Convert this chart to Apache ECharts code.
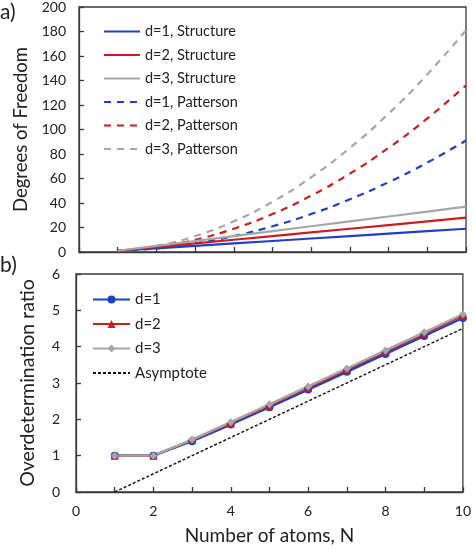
<!DOCTYPE html>
<html><head><meta charset="utf-8">
<script src="https://cdn.jsdelivr.net/npm/echarts@6/dist/echarts.min.js"></script>
<style>html,body{margin:0;padding:0;background:#fff}#c{width:474px;height:549px}</style>
</head><body><div id="c"></div>
<script>
const N = [1,2,3,4,5,6,7,8,9,10];
const structD1 = [1,3,5,7,9,11,13,15,17,19];
const structD2 = [1,4,7,10,13,16,19,22,25,28];
const structD3 = [1,5,9,13,17,21,25,29,33,37];
const pattD1 = [1,3,7,13,21,31,43,57,73,91];
const pattD2 = [1,4,10,19,31,46,64,85,109,136];
const pattD3 = [1,5,13,25,41,61,85,113,145,181];
const ratioD1 = [1,1,1.4,1.857,2.333,2.818,3.308,3.8,4.294,4.789];
const ratioD2 = [1,1,1.429,1.9,2.385,2.875,3.368,3.864,4.36,4.857];
const ratioD3 = [1,1,1.444,1.923,2.412,2.905,3.4,3.897,4.394,4.892];
const asymX = [1,10];
const asymY = [0,4.5];
const xTicksLabelled = [0,2,4,6,8,10];

const BLUE='#1f3fc4', RED='#c81e1e', GRAY='#a6a6a6';
const FONT='Lato';
const pairs=(xs,ys)=>xs.map((x,i)=>[x,ys[i]]);
const axisLineStyle={color:'#3a3a3a',width:1.3};

const chart=echarts.init(document.getElementById('c'));
const lineS=(name,data,color,dashed,grid,smooth)=>({
  name,type:'line',xAxisIndex:grid,yAxisIndex:grid,data:pairs(N,data),
  showSymbol:false,symbol:'none',smooth:smooth,
  lineStyle:{color,width:2.2,type:dashed?[7,6]:'solid'},itemStyle:{color}
});
const markS=(name,data,color,sym,size)=>({
  name,type:'line',xAxisIndex:1,yAxisIndex:1,data:pairs(N,data),
  symbol:sym,symbolSize:size,lineStyle:{color,width:2.4},itemStyle:{color}
});
chart.setOption({
  animation:false,
  textStyle:{fontFamily:FONT},
  graphic:[
    {type:'text',left:0,top:2,style:{text:'a)',fontSize:21,fontFamily:FONT,fill:'#222'}},
    {type:'text',left:0,top:255,style:{text:'b)',fontSize:21,fontFamily:FONT,fill:'#222'}}
  ],
  grid:[
    {left:79,right:8,top:7,bottom:297,show:true,borderColor:'#3a3a3a',borderWidth:1.3},
    {left:76,right:8,top:274,bottom:57,show:true,borderColor:'#3a3a3a',borderWidth:1.3}
  ],
  legend:[
    {left:98,top:19,orient:'vertical',itemWidth:36,itemHeight:10,itemGap:8.5,
     itemStyle:{opacity:0},
     textStyle:{fontSize:14.5,fontFamily:FONT,color:'#222'},
     data:['d=1, Structure','d=2, Structure','d=3, Structure','d=1, Patterson','d=2, Patterson','d=3, Patterson']},
    {left:87,top:287,orient:'vertical',itemWidth:37,itemHeight:10,itemGap:9.5,
     textStyle:{fontSize:15,fontFamily:FONT,color:'#222'},
     data:['d=1','d=2','d=3',{name:'Asymptote',itemStyle:{opacity:0}}]}
  ],
  xAxis:[
    {gridIndex:0,type:'value',min:0,max:10,interval:1,axisLine:{lineStyle:axisLineStyle},
     axisTick:{inside:true,length:5,lineStyle:axisLineStyle},axisLabel:{show:false},splitLine:{show:false}},
    {gridIndex:1,type:'value',min:0,max:10,interval:1,axisLine:{lineStyle:axisLineStyle},
     axisTick:{inside:true,length:5,lineStyle:axisLineStyle},
     axisLabel:{fontSize:14,fontFamily:FONT,color:'#222',margin:12,
       formatter:v=>xTicksLabelled.includes(v)?String(v):''},
     splitLine:{show:false},
     name:'Number of atoms, N',nameLocation:'middle',nameGap:34,
     nameTextStyle:{fontSize:19,fontFamily:FONT,color:'#222'}}
  ],
  yAxis:[
    {gridIndex:0,type:'value',min:0,max:200,interval:20,axisLine:{show:true,lineStyle:axisLineStyle},
     axisTick:{show:true,inside:true,length:5,lineStyle:axisLineStyle},
     axisLabel:{fontSize:14,fontFamily:FONT,color:'#222',margin:13},splitLine:{show:false},
     name:'Degrees of Freedom',nameLocation:'middle',nameGap:42,
     nameTextStyle:{fontSize:18.5,fontFamily:FONT,color:'#222'}},
    {gridIndex:1,type:'value',min:0,max:6,interval:1,axisLine:{show:true,lineStyle:axisLineStyle},
     axisTick:{show:true,inside:true,length:5,lineStyle:axisLineStyle},
     axisLabel:{fontSize:14,fontFamily:FONT,color:'#222',margin:16},splitLine:{show:false},
     name:'Overdetermination ratio',nameLocation:'middle',nameGap:38,
     nameTextStyle:{fontSize:19.5,fontFamily:FONT,color:'#222'}}
  ],
  series:[
    lineS('d=1, Patterson',pattD1,BLUE,true,0,true),
    lineS('d=2, Patterson',pattD2,RED,true,0,true),
    lineS('d=3, Patterson',pattD3,GRAY,true,0,true),
    lineS('d=1, Structure',structD1,BLUE,false,0,false),
    lineS('d=2, Structure',structD2,RED,false,0,false),
    lineS('d=3, Structure',structD3,GRAY,false,0,false),
    {name:'Asymptote',type:'line',xAxisIndex:1,yAxisIndex:1,data:pairs(asymX,asymY),
     symbol:'none',lineStyle:{color:'#111',width:1.4,type:[3,2]},itemStyle:{color:'#111'}},
    markS('d=1',ratioD1,BLUE,'circle',8),
    markS('d=2',ratioD2,RED,'triangle',8),
    markS('d=3',ratioD3,GRAY,'diamond',8)
  ]
});
</script></body></html>
